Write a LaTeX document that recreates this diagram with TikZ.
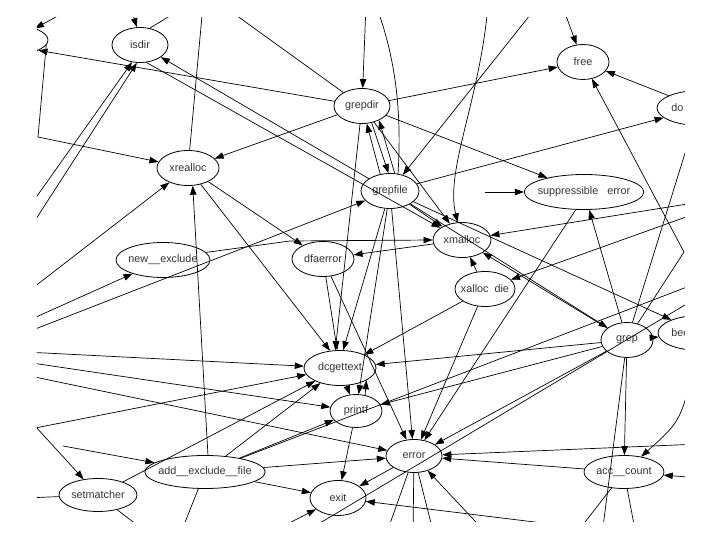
\documentclass[tikz,border=0pt]{standalone}
\usepackage{fontspec}
\setmainfont{Liberation Sans}
\usetikzlibrary{shapes.geometric, arrows.meta}

\tikzset{
  fn/.style={ellipse, draw, line width=0.4pt, inner xsep=-2pt, inner ysep=0pt,
             minimum height=17.5pt, font=\fontsize{5.4}{6}\selectfont, text=black!80},
  fnlabel/.style={inner sep=0pt, font=\fontsize{5.4}{6}\selectfont, text=black!80},
  call/.style={-{Triangle[length=4.5pt, width=3.2pt]}, line width=0.35pt}
}

\begin{document}
\begin{tikzpicture}[x=0.5pt, y=-0.5pt]
    \useasboundingbox (0,0) rectangle (720,540);
    \fill[white] (0,0) rectangle (720,540);
    \clip (37,18) rectangle (685,522);

    % Functions
    \node[fn, minimum width=38pt, minimum height=15pt] (lhs) at (10,40) {};
    \node[fn, minimum width=28pt] (isdir) at (140,45) {isdir};
    \node[fn, minimum width=26pt] (free) at (583,62) {free};
    \node[fn, minimum width=28pt] (grepdir) at (362,106) {grepdir};
    \node[fn, minimum width=43pt] (dosz) at (700,108) {};
    \node[fnlabel, anchor=west] (dotxt) at (671,108) {do};
    \node[fn, minimum width=31pt] (xrealloc) at (188,168) {xrealloc};
    \node[fn, minimum width=29pt] (grepfile) at (390,191) {grepfile};
    \node[fn, minimum width=57pt] (supp) at (584,192) {suppressible~~~error};
    \node[fn, minimum width=29pt] (xmalloc) at (462,240) {xmalloc};
    \node[fn, minimum width=47pt] (newex) at (163,260) {new\_\_exclude};
    \node[fn, minimum width=31pt] (dfaerror) at (323,259) {dfaerror};
    \node[fn, minimum width=30pt] (xalloc) at (485,289) {xalloc~~die};
    \node[fn, minimum width=26pt] (grep) at (627,340) {grep};
    \node[fn, minimum width=42pt] (bee) at (700,333) {};
    \node[fnlabel, anchor=west] (beetxt) at (671,333) {bee};
    \node[fn, minimum width=36pt] (dcgettext) at (340,368) {dcgettext};
    \node[fn, minimum width=26pt, minimum height=16.5pt] (printf) at (356,411) {printf};
    \node[fn, minimum width=28pt, minimum height=16.5pt] (error) at (414,456) {error};
    \node[fn, minimum width=40pt, minimum height=16.5pt] (acc) at (624,472) {acc\_\_count};
    \node[fn, minimum width=39pt, minimum height=16.5pt] (setm) at (98,495) {setmatcher};
    \node[fn, minimum width=56pt, minimum height=16.5pt] (aef) at (205,472) {add\_\_exclude\_\_file};
    \node[fn, minimum width=28pt] (exit) at (338,498) {exit};

    % Ends outside the frame
    \coordinate (tA) at (78,5);    \coordinate (tB) at (130,5);
    \coordinate (tC) at (188,5);   \coordinate (tD) at (203,5);
    \coordinate (tE) at (222,5);   \coordinate (tF) at (366,5);
    \coordinate (tG) at (376,5);   \coordinate (tH) at (488,5);
    \coordinate (tJ) at (538,5);   \coordinate (tK) at (562,5);
    \coordinate (lA) at (25,213);  \coordinate (lB) at (25,236);
    \coordinate (lC) at (25,294);  \coordinate (lD) at (25,322);
    \coordinate (lE) at (25,333);  \coordinate (lF) at (25,352);
    \coordinate (lG) at (25,362);  \coordinate (lH) at (25,375);
    \coordinate (lJ) at (25,415);  \coordinate (lK) at (25,430);
    \coordinate (lL) at (25,498);
    \coordinate (rA) at (700,202); \coordinate (rB) at (700,212);
    \coordinate (rC) at (700,444); \coordinate (rD) at (700,478);
    \coordinate (rE) at (700,282); \coordinate (rF) at (700,296);
    \coordinate (bA) at (386,535); \coordinate (bB) at (413,535);
    \coordinate (bC) at (434,535); \coordinate (bD) at (488,535);
    \coordinate (bE) at (266,535); \coordinate (bF) at (600,530);
    \coordinate (bG) at (150,535); \coordinate (bH) at (575,535);
    \coordinate (bJ) at (636,535); \coordinate (bK) at (602,535);
    \coordinate (bL) at (180,535); \coordinate (bM) at (300,535);
    \coordinate (bendA) at (38,137); \coordinate (bendB) at (684,252);
    \coordinate (bendC) at (290,241);
    \coordinate (suppin) at (485,192); \coordinate (aefin) at (63,446);

    % Top left
    \draw[call] (tA) -- (lhs.25);
    \draw[call] (grepdir) -- (lhs.-20);
    \draw[call] (lhs.-8) -- (bendA) -- (xrealloc);
    \draw[call] (tB) -- (isdir.100);
    \draw[call] (isdir.60) -- (tC);
    \draw[call] (lA) -- (isdir.-115);
    \draw[call] (lB) -- (isdir.-100);
    \draw[call] (grepfile) -- (isdir);
    \draw[call] (isdir.-70) -- (xmalloc);
    \draw[call] (xrealloc) -- (tD);
    \draw[call] (grepdir) -- (xrealloc);
    \draw[call] (lC) -- (xrealloc);
    \draw[call] (aef.80) -- (xrealloc.-75);
    \draw[call] (xrealloc) -- (dfaerror);
    \draw[call] (xrealloc) -- (dcgettext.120);
    \draw[call] (newex.10) -- (bendC) -- (xmalloc.west);
    \draw[call] (lD) -- (newex);
    \draw[call] (lE) -- (grepfile);

    % grepdir and grepfile
    \draw[call] (grepdir) -- (tE);
    \draw[call] (tF) -- (grepdir);
    \draw[call] (grepfile.65) .. controls (402,110) and (395,60) .. (tG);
    \draw[call] (grepfile.120) -- (grepdir.-75);
    \draw[call] (grepdir.-60) -- (grepfile.95);
    \draw[call] (grepfile.75) -- (grepdir.-40);
    \draw[call] (grepdir) -- (free);
    \draw[call] (grepdir) -- (supp);
    \draw[call] (grepdir) -- (xmalloc);
    \draw[call] (grepdir) -- (dcgettext.105);
    \draw[call] (tJ) -- (grepfile);
    \draw[call] (tH) .. controls (480,100) and (445,170) .. (xmalloc);
    \draw[call] (grepfile) -- (dosz);
    \draw[call] (suppin) -- (supp);
    \draw[call] (grepfile) -- (xmalloc);
    \draw[call] (grepfile) -- (dcgettext.80);
    \draw[call] (grepfile) -- (printf);
    \draw[call] (grepfile) -- (error);
    \draw[call] (grepfile) -- (grep);
    \draw[call] (grepfile) -- (bee);

    % Right part
    \draw[call] (tK) -- (free);
    \draw[call] (dosz) -- (free);
    \draw[call] (grep) -- (bendB) -- (free);
    \draw[call] (grep) -- (dosz.-110);
    \draw[call] (grep) -- (supp);
    \draw[call] (supp.-115) -- (error);
    \draw[call] (xmalloc) -- (dfaerror);
    \draw[call] (xalloc) -- (xmalloc);
    \draw[call] (grep) -- (xmalloc);
    \draw[call] (rA) -- (xmalloc);
    \draw[call] (rB) -- (xalloc);
    \draw[call] (xalloc) -- (dcgettext);
    \draw[call] (xalloc) -- (error);
    \draw[call] (grep) -- (dcgettext);
    \draw[call] (grep) -- (printf);
    \draw[call] (grep) -- (error);
    \draw[call] (grep) -- (acc);
    \draw[call] (grep) -- (bee);
    \draw[call] (acc) -- (error);
    \draw[call] (rC) -- (error);
    \draw[call] (rD) -- (acc);
    \draw[call] (bee) .. controls (682,420) .. (acc);

    % Lower part
    \draw[call] (dfaerror) -- (dcgettext);
    \draw[call] (dfaerror) -- (error);
    \draw[call] (dcgettext) -- (printf);
    \draw[call] (printf.60) -- (dcgettext.-25);
    \draw[call] (error) -- (exit);
    \draw[call] (printf) -- (exit);
    \draw[call] (aef) -- (exit);
    \draw[call] (bE) -- (exit);
    \draw[call] (bF) -- (exit);
    \draw[call] (error) -- (bA);
    \draw[call] (error) -- (bB);
    \draw[call] (error) -- (bC);
    \draw[call] (bD) -- (error);
    \draw[call] (lF) -- (dcgettext);
    \draw[call] (lG) -- (printf);
    \draw[call] (lH) -- (error);
    \draw[call] (lJ) -- (setm);
    \draw[call] (lK) -- (dcgettext);
    \draw[call] (setm) -- (lL);
    \draw[call] (setm) -- (dcgettext);
    \draw[call] (setm) -- (bG);
    \draw[call] (aefin) -- (aef);
    \draw[call] (aef) -- (dcgettext);
    \draw[call] (aef) -- (printf);
    \draw[call] (aef) -- (error);
    \draw[call] (aef) -- (bL);
    \draw[call] (acc) -- (bH);
    \draw[call] (acc) -- (bJ);
    \draw[call] (grep) -- (bK);
    \draw[call] (aef) -- (rE);
    \draw[call] (bM) -- (rF);

\end{tikzpicture}
\end{document}
